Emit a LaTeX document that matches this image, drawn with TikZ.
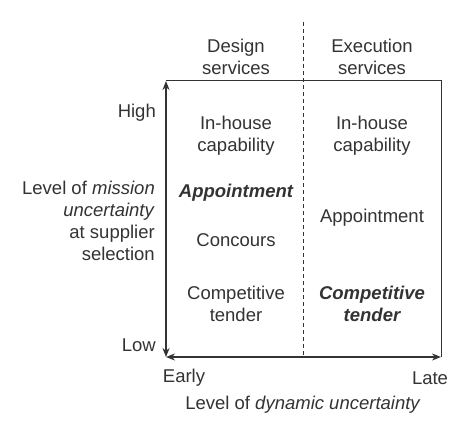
\documentclass[tikz,border=0pt]{standalone}
\usepackage{fontspec}
\setmainfont{Liberation Sans}
\usetikzlibrary{arrows.meta}
\definecolor{ink}{HTML}{333333}
\tikzset{
	txt/.style={text=ink, align=center, font=\fontsize{18.5}{22}\selectfont, inner sep=0pt},
	bolditalic/.style={txt, font=\fontsize{18.5}{22}\selectfont\bfseries\itshape},
	axis/.style={draw=ink, line width=1.6pt, {Stealth[length=9pt,width=7pt]}-{Stealth[length=9pt,width=7pt]}},
	frame/.style={draw=ink, line width=1pt}
}
\begin{document}
\begin{tikzpicture}[x=1pt,y=-1pt]
		\useasboundingbox[fill=white] (0,0) rectangle (474,428);

		% Define the corners
		\coordinate (O) at (166,357);
		\coordinate (T) at (166,81);
		\coordinate (R) at (441,357);
		\coordinate (TR) at (441,81);
		\coordinate (DT) at (303,22);
		\coordinate (DB) at (303,357);

		% Define the frame
		\draw[frame] (T) -- (TR) -- (R);
		\draw[frame, dash pattern=on 4pt off 3pt] (DT) -- (DB);
		\draw[axis] (O) -- (T);
		\draw[axis] (O) -- (R);

		% Column heads
		\node[txt] (design) at (236,57) {Design\\services};
		\node[txt] (exec) at (372,57) {Execution\\services};

		% Left column
		\node[txt] (inL) at (236,136) {In-house\\capability};
		\node[bolditalic] (appL) at (236,193) {Appointment};
		\node[txt] (conc) at (236,240) {Concours};
		\node[txt] (compL) at (236,304) {Competitive\\tender};

		% Right column
		\node[txt] (inR) at (372,136) {In-house\\capability};
		\node[txt] (appR) at (372,218) {Appointment};
		\node[bolditalic] (compR) at (372,304) {Competitive\\tender};

		% Axis labels
		\node[txt, anchor=east] (high) at (156,113) {High};
		\node[txt, anchor=east] (low) at (156,345) {Low};
		\node[txt, anchor=east, align=right] (mission) at (155,221) {Level of \textit{mission}\\\textit{uncertainty}\\at supplier\\selection};
		\node[txt] (early) at (184,378) {Early};
		\node[txt] (late) at (430,378) {Late};
		\node[txt] (dynamic) at (303,405) {Level of \textit{dynamic uncertainty}};
	\end{tikzpicture}
\end{document}
